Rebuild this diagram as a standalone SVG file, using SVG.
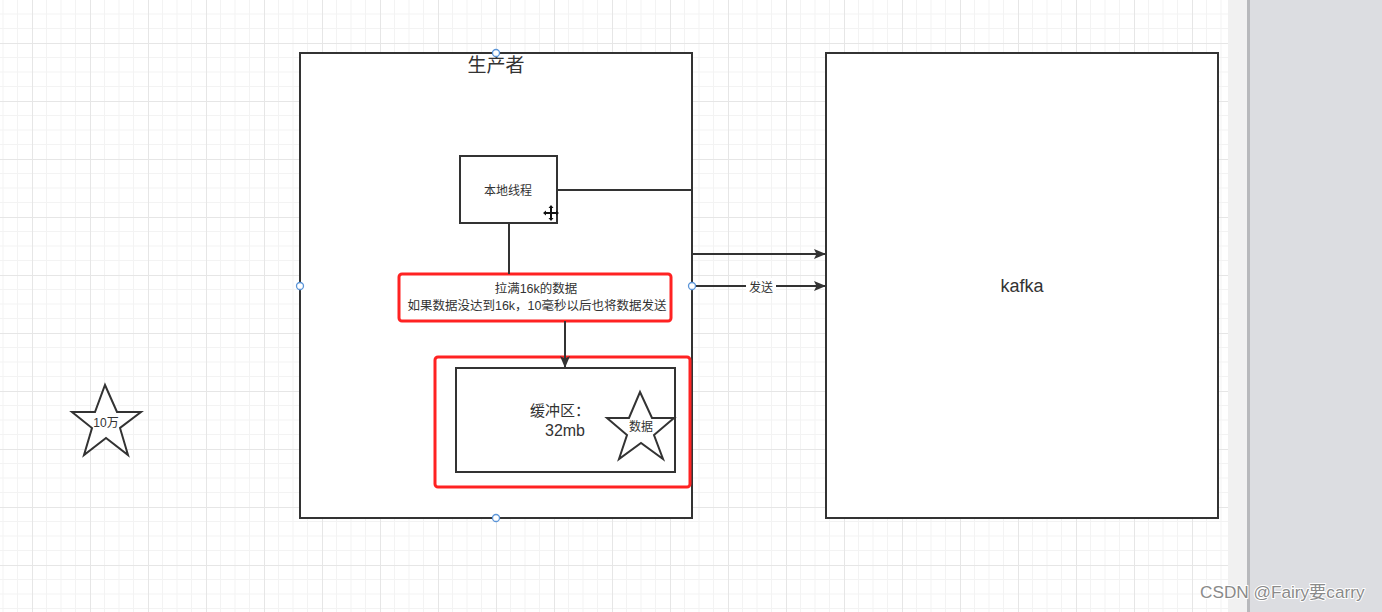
<svg xmlns="http://www.w3.org/2000/svg" width="1382" height="612" viewBox="0 0 1382 612">
<style>
text{font-family:"Liberation Sans","Noto Sans CJK SC",sans-serif;fill:#333;}
.box{fill:#fff;stroke:#333;stroke-width:2;}
.hl{fill:none;stroke:#f22;stroke-width:3;}
.conn{fill:none;stroke:#333;stroke-width:2;}
.star{fill:#fff;stroke:#333;stroke-width:2;stroke-linejoin:miter;}
.handle{fill:#fff;stroke:#5b95d8;stroke-width:1.3;}
.c{text-anchor:middle;}
</style>
<defs>
<pattern id="grid" x="32" y="-15" width="58" height="58" patternUnits="userSpaceOnUse">
<path d="M14.5 0V58M29 0V58M43.5 0V58M0 14.5H58M0 29H58M0 43.5H58" stroke="#f3f3f3" stroke-width="1" fill="none"/>
<path d="M0.5 0V58M0 0.5H58" stroke="#e6e6e6" stroke-width="1" fill="none"/>
</pattern>
<marker id="arr" viewBox="0 0 12 10" refX="12" refY="5" markerWidth="12" markerHeight="10" markerUnits="userSpaceOnUse" orient="auto">
<path d="M0 0L12 5L0 10L2.5 5Z" fill="#333"/>
</marker>
</defs>
<rect x="0" y="0" width="1382" height="612" fill="#fff"/>
<rect x="0" y="0" width="1228" height="612" fill="url(#grid)"/>
<rect x="1228" y="0" width="20" height="612" fill="#f1f1f1"/>
<rect x="1248" y="0" width="134" height="612" fill="#dcdde1"/>
<rect x="1247" y="0" width="3" height="612" fill="#b8b9bc"/>

<g id="producer">
<rect class="box" x="300" y="53" width="392" height="465"/>
<text class="c" x="496" y="72" font-size="19">生产者</text>
</g>
<g id="kafka">
<rect class="box" x="826" y="53" width="392" height="465"/>
<text class="c" x="1022" y="292" font-size="18">kafka</text>
</g>
<g id="local-thread">
<rect class="box" x="460" y="156" width="97" height="67"/>
<text class="c" x="508" y="195" font-size="12">本地线程</text>
</g>
<g id="batch-note">
<rect x="399" y="274" width="272" height="47" rx="3" fill="#fff"/>
<rect class="hl" x="399" y="274" width="272" height="47" rx="3"/>
<text class="c" x="536" y="293" font-size="12.5">拉满16k的数据</text>
<text class="c" x="537" y="310" font-size="12.5">如果数据没达到16k，10毫秒以后也将数据发送</text>
</g>
<g id="buffer-highlight">
<rect class="hl" x="435" y="357" width="255" height="130" rx="3"/>
</g>
<g id="buffer">
<rect class="box" x="456" y="368" width="219" height="104"/>
<text class="c" x="560" y="416" font-size="15">缓冲区：</text>
<text class="c" x="565" y="436" font-size="16">32mb</text>
</g>
<g id="data-star">
<polygon class="star" points="640,392 652,418 674,418 654,435 663,459 641,443 619,459 627,435 607,418 629,418"/>
<text class="c" x="641" y="431" font-size="12">数据</text>
</g>
<g id="star-100k">
<polygon class="star" points="105,385 117,412 141,412 120,428 128,455 106,438 84,455 92,428 72,412 95,412"/>
<text class="c" x="106" y="427" font-size="12">10万</text>
</g>

<g id="connectors">
<path class="conn" d="M557 190H692V254H826" marker-end="url(#arr)"/>
<path class="conn" d="M509 223V274"/>
<path class="conn" d="M565 321V368" marker-end="url(#arr)"/>
<path class="conn" d="M692 286H826" marker-end="url(#arr)"/>
<rect x="746" y="278" width="30" height="16" fill="#fff"/>
<text class="c" x="761" y="292" font-size="12">发送</text>
</g>

<g id="handles">
<circle class="handle" cx="496" cy="53" r="3.5"/>
<circle class="handle" cx="300" cy="286" r="3.5"/>
<circle class="handle" cx="692" cy="286" r="3.5"/>
<circle class="handle" cx="496" cy="518" r="3.5"/>
</g>
<g id="cursor">
<path d="M551 206V220M544 213H558" stroke="#111" stroke-width="2"/>
<path d="M551 205l-2.5 3h5zM551 221l-2.5-3h5zM543 213l3-2.5v5zM559 213l-3-2.5v5z" fill="#111"/>
</g>
<text x="1200" y="598" font-size="17.2" paint-order="stroke" style="fill:#8a8a8a;stroke:#fff;stroke-width:2;stroke-linejoin:round">CSDN @Fairy要carry</text>
</svg>
